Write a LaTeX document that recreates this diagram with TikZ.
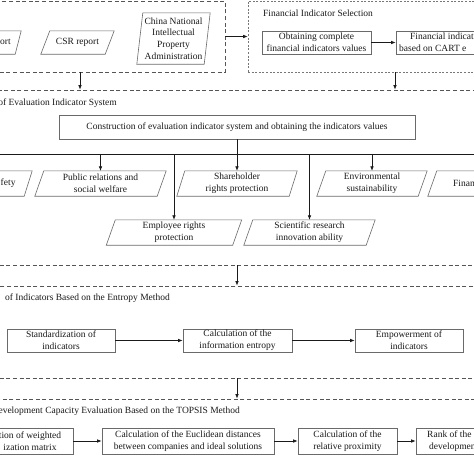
\documentclass[tikz,border=0pt]{standalone}
\usepackage{fontspec}
\setmainfont{Liberation Serif}
\usetikzlibrary{arrows.meta}
\definecolor{boxgray}{HTML}{6A6A6A}
\definecolor{dashgray}{HTML}{555555}
\definecolor{inkc}{HTML}{1A1A1A}
\newcommand\pgram[2]{\draw[pgline] ([xshift=#2pt]#1.north west) -- ([xshift=#2pt]#1.north east) -- ([xshift=-#2pt]#1.south east) -- ([xshift=-#2pt]#1.south west) -- cycle;}
\begin{document}
\begin{tikzpicture}[x=1pt,y=-1pt,
  txt/.style={font=\fontsize{9.5}{11.7}\selectfont, align=center, inner sep=0pt, text=inkc},
  box/.style={txt, draw=boxgray, line width=0.6pt, minimum height=23pt},
  pgt/.style={txt, minimum height=25pt},
  pgline/.style={draw=boxgray, line width=0.6pt},
  secbox/.style={draw=dashgray, dash pattern=on 4pt off 2.6pt, line width=0.7pt, inner sep=0pt},
  finebox/.style={draw=dashgray!80, dash pattern=on 2pt off 1.6pt, line width=0.55pt, inner sep=0pt},
  arr/.style={-{Latex[length=4.5pt,width=3.6pt]}, line width=0.7pt, draw=inkc},
  bus/.style={line width=0.9pt, draw=inkc}]
\useasboundingbox (0,0) rectangle (474,474);
\clip (0,0) rectangle (474,474);
\fill[white] (0,0) rectangle (474,474);

% section frames
\node[secbox, minimum width=245pt, minimum height=71pt] (tl) at (102.5,36.5) {};
\node[finebox, minimum width=272pt, minimum height=71pt] (tr) at (384,36.5) {};
\node[secbox, minimum width=514pt, minimum height=175pt] (s2) at (237,177.5) {};
\node[secbox, minimum width=514pt, minimum height=92pt] (s3) at (237,332) {};
\node[secbox, minimum width=514pt, minimum height=101pt] (s4) at (237,449.5) {};

% titles
\node[txt, anchor=west] (t1) at (263,13) {Financial Indicator Selection};
\node[txt, anchor=east] (t2) at (117,103.5) {of Evaluation Indicator System};
\node[txt, anchor=west] (t3) at (5,298) {of Indicators Based on the Entropy Method};
\node[txt, anchor=east] (t4) at (240,411) {evelopment Capacity Evaluation Based on the TOPSIS Method};

% data sources
\node[pgt, minimum width=76pt, minimum height=23pt] (rep) at (-20,42.5) {};
\pgram{rep}{3}
\node[txt, anchor=east] (reptxt) at (11,42.5) {port};
\node[pgt, minimum width=64pt, minimum height=23pt] (csr) at (77.5,42.5) {CSR report};
\pgram{csr}{4.5}
\node[pgt, minimum width=67pt, minimum height=51pt] (cnipa) at (173.5,38.5) {China National\\Intellectual\\Property\\Administration};
\pgram{cnipa}{3}

% financial indicator selection
\node[box, minimum width=109pt] (fobt) at (316.5,42.5) {Obtaining complete\\financial indicators values};
\node[box, minimum width=134pt] (fcart) at (463,42.5) {};
\node[txt, anchor=west, align=left] (fcarttxt) at (399,42.5) {\hspace*{11pt}Financial indicat\\based on CART e};

% evaluation indicator system
\node[box, minimum width=356pt, minimum height=24pt] (cons) at (237,127) {Construction of evaluation indicator system and obtaining the indicators values};
\node[pgt, minimum width=120pt] (fety) at (-32,183.5) {};
\pgram{fety}{4}
\node[txt, anchor=east] (fetytxt) at (15.7,183.5) {fety};
\node[pgt, minimum width=122pt] (pub) at (100.5,183.5) {Public relations and\\social welfare};
\pgram{pub}{4.5}
\node[pgt, minimum width=112pt] (share) at (237,183.5) {Shareholder\\rights protection};
\pgram{share}{4}
\node[pgt, minimum width=101pt] (env) at (372,183.5) {Environmental\\sustainability};
\pgram{env}{4.5}
\node[pgt, minimum width=110pt] (fin) at (487.5,183.5) {};
\pgram{fin}{4.5}
\node[txt, anchor=west] (fintxt) at (453,183.5) {Financ};
\node[pgt, minimum width=126pt] (emp) at (174,232.5) {Employee rights\\protection};
\pgram{emp}{4.5}
\node[pgt, minimum width=122pt] (sci) at (309.5,232.5) {Scientific research\\innovation ability};
\pgram{sci}{4.5}

% entropy method
\node[box, minimum width=108pt] (std) at (61,340.5) {Standardization of\\indicators};
\node[box, minimum width=109pt] (ent) at (237.5,340.5) {Calculation of the\\information entropy};
\node[box, minimum width=108pt] (empw) at (409,340.5) {Empowerment of\\indicators};

% TOPSIS
\node[box, minimum width=86pt, minimum height=26pt] (wmat) at (30,441) {tion of weighted\\ization matrix};
\node[box, minimum width=172pt, minimum height=26pt] (eucl) at (188,441) {Calculation of the Euclidean distances\\between companies and ideal solutions};
\node[box, minimum width=99pt, minimum height=26pt] (prox) at (347.5,441) {Calculation of the\\relative proximity};
\node[box, minimum width=104pt, minimum height=26pt] (rank) at (468,441) {};
\node[txt, anchor=west, align=left] (ranktxt) at (427,441) {Rank of the\\\hspace*{2pt}developmen};

% helper coordinates
\coordinate (x80) at (80,0);
\coordinate (x395) at (395,0);
\coordinate (x237) at (237,0);
\coordinate (busL) at (-10,154);
\coordinate (busR) at (484,154);

% connectors
\draw[arr] (tl.east) -- (tr.west);
\draw[arr] (fobt) -- (fcart);
\draw[arr] (x80 |- tl.south) -- (x80 |- s2.north);
\draw[arr] (x395 |- tr.south) -- (x395 |- s2.north);
\draw[bus] (busL) -- (busR);
\draw[arr] (cons.south) -- (share.north);
\draw[arr] (pub.north |- busL) -- (pub.north);
\draw[arr] (emp.north |- busL) -- (emp.north);
\draw[arr] (sci.north |- busL) -- (sci.north);
\draw[arr] (env.north |- busL) -- (env.north);
\draw[arr] (x237 |- s2.south) -- (x237 |- s3.north);
\draw[arr] (std) -- (ent);
\draw[arr] (ent) -- (empw);
\draw[arr] (x237 |- s3.south) -- (x237 |- s4.north);
\draw[arr] (wmat) -- (eucl);
\draw[arr] (eucl) -- (prox);
\draw[arr] (prox) -- (rank);
\end{tikzpicture}
\end{document}
